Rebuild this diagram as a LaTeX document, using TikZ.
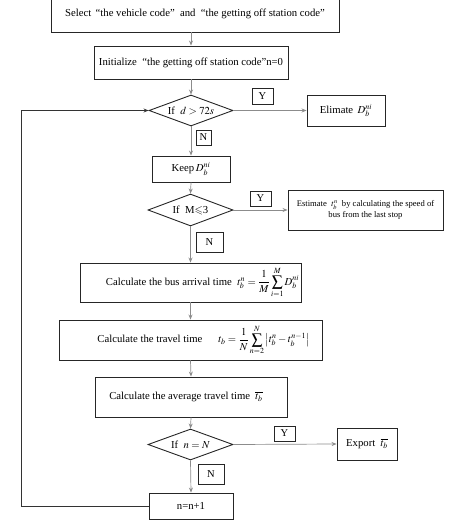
\documentclass[tikz,border=0pt]{standalone}
\usepackage{amsmath,amssymb}
\usepackage{mathptmx}
\usepackage{fontspec}
\setmainfont{Liberation Serif}
\usetikzlibrary{shapes.geometric,arrows.meta}
\begin{document}
\begin{tikzpicture}[x=1pt,y=-1pt,
  box/.style={draw=black!85,line width=0.9pt,inner sep=0pt,align=center,font=\fontsize{10.7}{12}\selectfont},
  dia/.style={diamond,aspect=2.7,draw=black!85,line width=0.9pt,inner sep=0pt,font=\fontsize{10.7}{12}\selectfont},
  lbl/.style={draw=black!85,line width=0.9pt,inner sep=0pt,font=\fontsize{10.5}{12}\selectfont},
  arr/.style={draw=black!45,line width=0.7pt,-{Stealth[length=5pt,width=4pt]}},
  loop/.style={draw=black!80,line width=0.9pt,-{Stealth[length=5pt,width=4pt]}}]
\useasboundingbox (0,0) rectangle (474,526);
\node[box,minimum width=288,minimum height=36] (b1) at (195,14) {\raisebox{-2pt}{Select \,“the vehicle code” \ and \ “the getting off station code”}};
\node[box,minimum width=194,minimum height=33] (b2) at (191,62.5) {Initialize \ “the getting off station code”n=0};
\node[dia,minimum width=84,minimum height=31] (d1) at (191,110.5) {If \ $d>72s$};
\node[lbl,minimum width=21,minimum height=16] (y1) at (262.5,96) {Y};
\node[box,minimum width=78,minimum height=31] (e1) at (346,110.5) {Elimate \,$D_b^{ni}$};
\node[lbl,minimum width=15,minimum height=15] (n1) at (203.5,137.5) {N};
\node[box,minimum width=78,minimum height=26] (k) at (191,169) {Keep\,$D_b^{ni}$};
\node[dia,minimum width=85,minimum height=32] (d2) at (190.5,210) {If \ M$\leqslant$3};
\node[lbl,minimum width=21,minimum height=15] (y2) at (260.5,198.5) {Y};
\node[box,minimum width=155,minimum height=40,font=\fontsize{8.6}{11.5}\selectfont] (est) at (365.5,210) {Estimate \ $t_b^n$ \ by calculating the speed of\\bus from the last stop};
\node[lbl,minimum width=27,minimum height=20] (n2) at (209.5,242) {N};
\node[box,minimum width=221,minimum height=39] (ar) at (190.5,282.5) {\hspace*{24pt}Calculate the bus arrival time \ $t_b^n=\dfrac{1}{M}\displaystyle\sum_{i=1}^{M}D_b^{ni}$};
\node[box,minimum width=263,minimum height=40] (tr) at (190.5,340) {\hspace*{26pt}Calculate the travel time \quad\ $t_b=\dfrac{1}{N}\displaystyle\sum_{n=2}^{N}\left|t_b^n-t_b^{n-1}\right|$};
\node[box,minimum width=192,minimum height=40] (av) at (191,397) {Calculate the average travel time \ $\overline{t_b}$\hspace*{10pt}};
\node[dia,minimum width=85,minimum height=31] (d3) at (190.5,444.5) {If \ $n=N$};
\node[lbl,minimum width=21,minimum height=15] (y3) at (284.5,433.5) {Y};
\node[box,minimum width=60,minimum height=32] (ex) at (367,444) {Export \ $\overline{t_b}$};
\node[lbl,minimum width=26,minimum height=20] (n3) at (211,474) {N};
\node[box,minimum width=84,minimum height=26] (inc) at (191,506) {n=n+1};
\coordinate (c1) at (21,506);
\coordinate (c2) at (21,110.5);
\draw[arr] (b2.north |- b1.south) -- (b2.north);
\draw[arr] (b2.south) -- (d1.north);
\draw[arr] (d1.east) -- (e1.west);
\draw[arr] (d1.south) -- (k.north);
\draw[arr] (k.south) -- (d2.north);
\draw[arr] (d2.east) -- (est.west);
\draw[arr] (d2.south) -- (ar.north);
\draw[arr] (ar.south) -- (tr.north);
\draw[arr] (tr.south) -- (av.north);
\draw[arr] (av.south) -- (d3.north);
\draw[arr] (d3.east) -- (ex.west);
\draw[arr] (d3.south) -- (inc.north);
\draw[loop] (inc.west) -- (c1) -- (c2) -- (d1.west);
\end{tikzpicture}
\end{document}
